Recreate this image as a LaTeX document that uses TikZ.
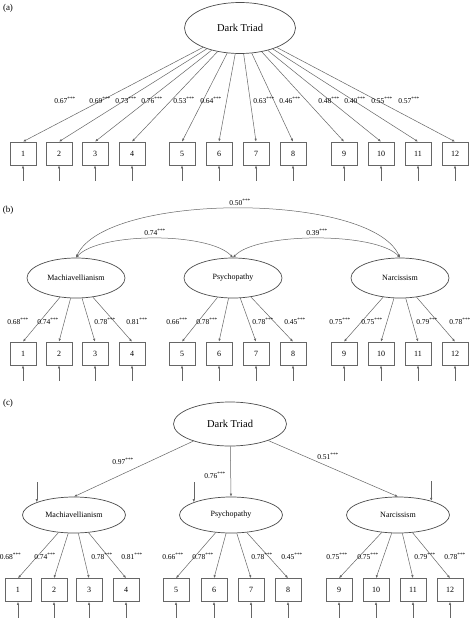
\documentclass[tikz,border=0pt]{standalone}
\usepackage{fontspec}
\setmainfont{Liberation Serif}
\usetikzlibrary{shapes.geometric,arrows.meta,calc}
\newcommand\pstar{\textsuperscript{***}}
\begin{document}
\begin{tikzpicture}[x=1pt,y=-1pt,
  lat/.style={ellipse,draw=black!70,line width=0.7pt,inner sep=0pt,font=\fontsize{8}{9}\selectfont},
  ind/.style={rectangle,draw=black!60,line width=0.7pt,minimum width=26pt,minimum height=23pt,inner sep=0pt,font=\fontsize{8}{9}\selectfont},
  arr/.style={draw=black!60,line width=0.5pt,-{Latex[length=3pt,width=2.4pt]}},
  errarr/.style={draw=black!60,line width=0.5pt,line cap=butt,{Latex[length=3pt,width=2.4pt]}-},
  darr/.style={draw=black!60,line width=0.5pt,{Latex[length=3pt,width=2.4pt]}-{Latex[length=3pt,width=2.4pt]}},
  lab/.style={inner sep=0pt,font=\fontsize{7.5}{9}\selectfont},
  panel/.style={inner sep=0pt,font=\fontsize{9}{10}\selectfont}]
\fill[white] (0,0) rectangle (474,618);
\useasboundingbox (0,0) rectangle (474,618);

% ---------------- Panel (a)
\node[panel] (tagA) at (8,8) {(a)};
\node[lat,minimum width=111pt,minimum height=51pt,font=\fontsize{10.5}{12}\selectfont] (dta) at (240,28) {Dark Triad};
\foreach \i/\xx in {1/23,2/59,3/95,4/132,5/182,6/219,7/256,8/293,9/344,10/381,11/418,12/455}{
  \node[ind] (a\i) at (\xx,153.5) {\i};
  \coordinate (ea\i) at ($(a\i.south)+(0,16)$);
  \draw[errarr] (a\i.south) -- (ea\i);
  \draw[arr] (dta) -- (a\i.north);
}
\foreach \i/\xx/\v in {1/65/0.67,2/100/0.69,3/126/0.73,4/152/0.76,5/184/0.53,6/211/0.64,7/264/0.63,8/290/0.46,9/329/0.48,10/355/0.40,11/382/0.55,12/409/0.57}{
  \node[lab] (la\i) at (\xx,100) {\v\pstar};
}

% ---------------- Panel (b)
\node[panel] (tagB) at (8,210) {(b)};
\node[lat,minimum width=98pt,minimum height=40pt] (mb) at (76,278) {Machiavellianism};
\node[lat,minimum width=98pt,minimum height=40pt] (psb) at (233,278) {Psychopathy};
\node[lat,minimum width=98pt,minimum height=40pt] (nb) at (400,278) {Narcissism};
\draw[darr] (mb.north) .. controls (106,192) and (370,192) .. (nb.north);
\draw[darr] (mb.north) .. controls (100,232) and (209,232) .. (psb.north);
\draw[darr] (psb.north) .. controls (257,232) and (376,232) .. (nb.north);
\node[lab] (l50) at (240,202) {0.50\pstar};
\node[lab] (l74) at (155,232) {0.74\pstar};
\node[lab] (l39) at (317,232) {0.39\pstar};
\foreach \i/\xx/\lv in {1/23/mb,2/59/mb,3/95/mb,4/132/mb,5/182/psb,6/219/psb,7/256/psb,8/293/psb,9/344/nb,10/381/nb,11/418/nb,12/455/nb}{
  \node[ind] (b\i) at (\xx,353.5) {\i};
  \coordinate (eb\i) at ($(b\i.south)+(0,16)$);
  \draw[errarr] (b\i.south) -- (eb\i);
  \draw[arr] (\lv) -- (b\i.north);
}
\foreach \i/\xx/\v in {1/18/0.68,2/48/0.74,3/105/0.78,4/137/0.81,5/177/0.66,6/207/0.78,7/263/0.78,8/295/0.45,9/340/0.75,10/372/0.75,11/427/0.79,12/460/0.78}{
  \node[lab] (lb\i) at (\xx,321) {\v\pstar};
}

% ---------------- Panel (c)
\node[panel] (tagC) at (8,403) {(c)};
\node[lat,minimum width=113pt,minimum height=44pt,font=\fontsize{10.5}{12}\selectfont] (dtc) at (230,424) {Dark Triad};
\node[lat,minimum width=103pt,minimum height=36pt] (mc) at (74,515) {Machiavellianism};
\node[lat,minimum width=103pt,minimum height=36pt] (psc) at (231,515) {Psychopathy};
\node[lat,minimum width=103pt,minimum height=36pt] (nc) at (398,515) {Narcissism};
\draw[arr] (dtc) -- (mc.north);
\draw[arr] (dtc) -- (psc.north);
\draw[arr] (dtc) -- (nc.north);
\node[lab] (l97) at (123,461) {0.97\pstar};
\node[lab] (l76) at (215,475) {0.76\pstar};
\node[lab] (l51) at (328,456) {0.51\pstar};
\coordinate (dm) at ($(mc.161)+(0,-20)$);
\draw[errarr] (mc.161) -- (dm);
\coordinate (dp) at ($(psc.161)+(0,-20)$);
\draw[errarr] (psc.161) -- (dp);
\coordinate (dn) at ($(nc.23)+(0,-20)$);
\draw[errarr] (nc.23) -- (dn);
\foreach \i/\xx/\lv in {1/18/mc,2/54/mc,3/89/mc,4/126/mc,5/176/psc,6/214/psc,7/251/psc,8/288/psc,9/339/nc,10/376/nc,11/413/nc,12/450/nc}{
  \node[ind] (c\i) at (\xx,590) {\i};
  \coordinate (ec\i) at ($(c\i.south)+(0,16)$);
  \draw[errarr] (c\i.south) -- (ec\i);
  \draw[arr] (\lv) -- (c\i.north);
}
\foreach \i/\xx/\v in {1/10.5/0.68,2/45/0.74,3/102/0.78,4/132/0.81,5/173/0.66,6/203/0.78,7/262/0.78,8/292/0.45,9/337/0.75,10/368/0.75,11/425/0.79,12/455/0.78}{
  \node[lab] (lc\i) at (\xx,556) {\v\pstar};
}
\end{tikzpicture}
\end{document}
